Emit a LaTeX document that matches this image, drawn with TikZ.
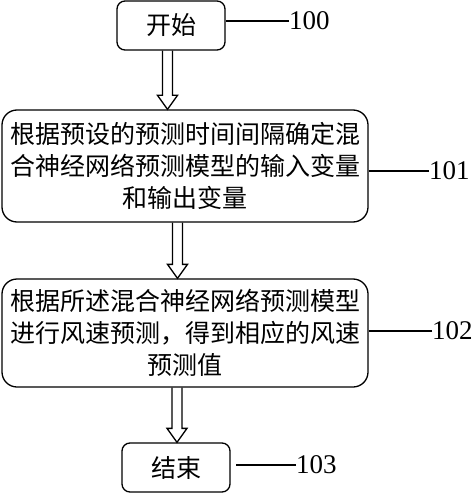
\documentclass[tikz,border=0pt]{standalone}
\usepackage{fontspec}
\setmainfont{Liberation Serif}
\newfontfamily\cjk{Noto Sans CJK SC}
\usetikzlibrary{calc}
\tikzset{
  box/.style={draw, line width=1.3pt, rounded corners=#1, inner sep=0pt,
    font=\cjk\fontsize{25pt}{32pt}\selectfont, align=center},
  lbl/.style={font=\fontsize{27pt}{27pt}\selectfont, inner sep=0pt, anchor=west},
  lead/.style={line width=1.3pt},
  hollow/.style={line width=1.3pt, line join=miter}
}
\newcommand{\hollowarrow}[4]{%
  \coordinate (#4s) at ([xshift=#3]#1.south);
  \coordinate (#4t) at (#4s |- #2.north);
  \draw[hollow] ($(#4s)+(-5pt,0)$) -- ($(#4t)+(-5pt,14pt)$) -- ($(#4t)+(-10pt,14pt)$)
    -- (#4t) -- ($(#4t)+(10pt,14pt)$) -- ($(#4t)+(5pt,14pt)$) -- ($(#4s)+(5pt,0)$);
}
\begin{document}
\begin{tikzpicture}[x=1pt,y=-1pt]
\useasboundingbox (0,0) rectangle (474,494);
\node[box=8pt, minimum width=108pt, minimum height=49pt] (start) at (171,25.5) {开始};
\node[box=15pt, minimum width=366pt, minimum height=112pt] (b101) at (185,166)
  {根据预设的预测时间间隔确定混\\合神经网络预测模型的输入变量\\和输出变量};
\node[box=15pt, minimum width=366pt, minimum height=108pt] (b102) at (185,333)
  {根据所述混合神经网络预测模型\\进行风速预测，得到相应的风速\\预测值};
\node[box=8pt, minimum width=108pt, minimum height=49pt] (end) at (176,467.5) {结束};

\hollowarrow{start}{b101}{-3.5pt}{a1}
\hollowarrow{b101}{b102}{-7.5pt}{a2}
\hollowarrow{b102}{end}{-8pt}{a3}

\node[lbl] (l100) at (289,21) {100};
\node[lbl] (l101) at (429,171) {101};
\node[lbl] (l102) at (432,331) {102};
\node[lbl] (l103) at (296,465) {103};
\draw[lead] (l100.west) -- (l100.west -| start.east);
\draw[lead] (l101.west) -- (l101.west -| b101.east);
\draw[lead] (l102.west) -- (l102.west -| b102.east);
\draw[lead] (l103.west) -- ([xshift=5pt]l103.west -| end.east);
\end{tikzpicture}
\end{document}
